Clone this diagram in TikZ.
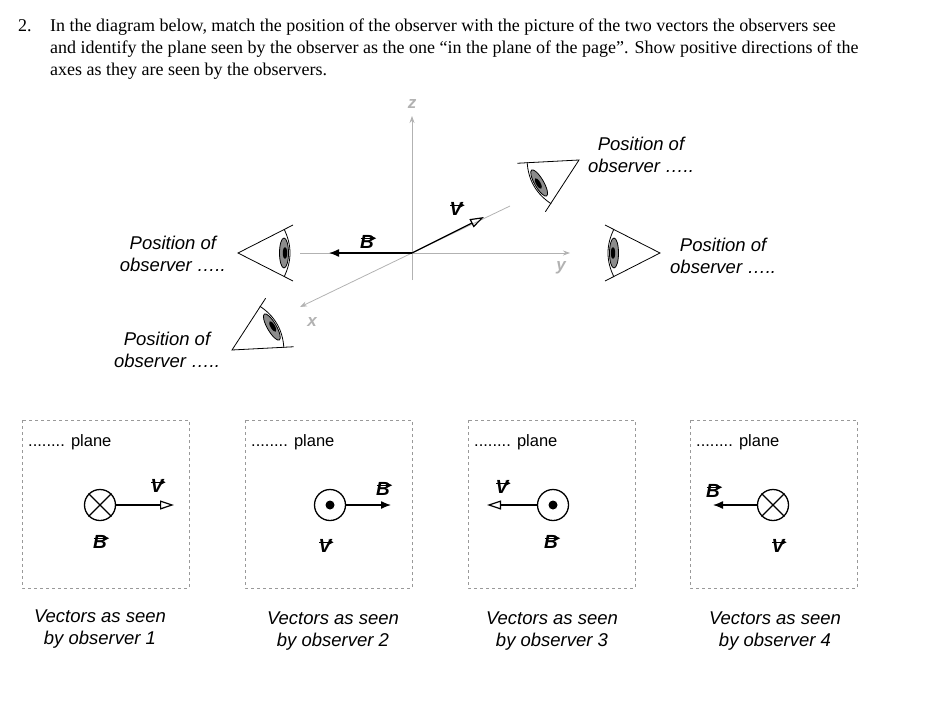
\documentclass[tikz,border=0pt]{standalone}
\usepackage{fontspec}
\setmainfont{Liberation Sans}
\newfontfamily\serif{Liberation Serif}
\usetikzlibrary{arrows.meta}
\newcommand\vecnode[3]{%
  \node[vl] (#1) at (#2) {#3};
  \draw[line width=1pt,-{Stealth[length=5pt,width=5pt]}] ([xshift=1pt,yshift=-3pt]#1.north west) -- ([xshift=2pt,yshift=-3pt]#1.north east);}
\begin{document}
\begin{tikzpicture}[x=1pt,y=-1pt,
  ax/.style={draw=black!30,line width=0.8pt},
  axa/.style={ax,-{Stealth[length=7pt,width=5pt]}},
  lbl/.style={font=\fontsize{18.5}{22}\selectfont\itshape,align=center,inner sep=0},
  axl/.style={font=\fontsize{17}{20}\selectfont\bfseries\itshape,text=black!30,inner sep=0},
  vl/.style={font=\fontsize{19}{20}\selectfont\bfseries\itshape,inner sep=0},
  bvec/.style={line width=1.3pt,-{Latex[length=10pt,width=8pt]}},
  vvecs/.style={line width=1.3pt,-{Triangle[open,length=14pt,width=9pt,line width=1.2pt]}},
  box/.style={draw=black!40,dashed,line width=0.6pt},
  sym/.style={circle,draw,line width=1.3pt,minimum size=31pt,inner sep=0},
  eye/.pic={
    \draw[line width=0.8pt] (55,-28) -- (0,0) -- (55,28);
    \draw[line width=0.8pt] (46,-24) .. controls (54,-8) and (54,8) .. (46,24);
    \draw[fill=black!45,line width=0.8pt] (46,0) ellipse (4.5 and 15);
    \fill (47,0) ellipse (2.2 and 6);
  }]
\useasboundingbox (0,0) rectangle (925,714);
\node[anchor=north west,inner sep=0,font=\serif\fontsize{18}{22}\selectfont] (num) at (18,19) {2.};
\node[anchor=north west,inner sep=0,font=\serif\fontsize{18}{22}\selectfont,align=left] (q) at (50,19)
 {In the diagram below, match the position of the observer with the picture of the two vectors the observers see\\
 and identify the plane seen by the observer as the one “in the plane of the page”. Show positive directions of the\\
 axes as they are seen by the observers.};
% axes
\coordinate (O) at (412,253);
\coordinate (zb) at (412,280); \coordinate (zt) at (412,116);
\coordinate (yl) at (300,253); \coordinate (yr) at (570,253);
\coordinate (xb) at (510,206); \coordinate (xt) at (300,307);
\draw[axa] (zb) -- (zt);
\draw[axa] (yl) -- (yr);
\draw[ax] (xb) -- (O);
\draw[axa] (O) -- (xt);
\node[axl] (zl) at (412,104) {z};
\node[axl] (ylab) at (561,268) {y};
\node[axl] (xlab) at (312,322) {x};
\coordinate (Bt) at (329,253); \coordinate (Vt) at (484,217);
\draw[bvec] (O) -- (Bt);
\draw[vvecs] (O) -- (Vt);
\vecnode{Bl}{367,242}{B}
\vecnode{Vl}{456,209}{V}
% eyes
\pic at (238,253) {eye};
\pic[rotate=180] at (660,253) {eye};
\pic[rotate=210] at (579,160) {eye};
\pic[rotate=30] at (232,350) {eye};
\node[lbl,anchor=east] (p1) at (226,254) {Position of\\observer …..};
\node[lbl,anchor=west] (p2) at (670,256) {Position of\\observer …..};
\node[lbl] (p3) at (641,155) {Position of\\observer …..};
\node[lbl] (p4) at (167,350) {Position of\\observer …..};
% boxes
\foreach \i/\x in {1/22,2/245,3/468,4/690}{
  \draw[box] (\x,420) rectangle ++(167,168);
  \node[anchor=west,inner sep=0,font=\fontsize{16.5}{18}\selectfont] (pl\i) at (\x+6,442) {........ plane};
}
% box 1
\node[sym] (c1) at (100,505) {}; \draw[line width=1.3pt] (c1.north east)--(c1.south west) (c1.north west)--(c1.south east);
\coordinate (v1) at (174,505); \draw[vvecs] (c1) -- (v1);
\vecnode{V1}{157,486}{V} \vecnode{B1}{100,542}{B}
% box 2
\node[sym] (c2) at (330,505) {}; \fill (c2) circle (4.5);
\coordinate (b2) at (391,505); \draw[bvec] (c2) -- (b2);
\vecnode{B2}{383,489}{B} \vecnode{V2}{325,546}{V}
% box 3
\node[sym] (c3) at (553,505) {}; \fill (c3) circle (4.5);
\coordinate (v3) at (487,505); \draw[vvecs] (c3) -- (v3);
\vecnode{V3}{502,487}{V} \vecnode{B3}{551,542}{B}
% box 4
\node[sym] (c4) at (773,505) {}; \draw[line width=1.3pt] (c4.north east)--(c4.south west) (c4.north west)--(c4.south east);
\coordinate (b4) at (713,505); \draw[bvec] (c4) -- (b4);
\vecnode{B4}{713,491}{B} \vecnode{V4}{778,546}{V}
% captions
\node[lbl] (cap1) at (100,629) {Vectors as seen\\by observer 1};
\node[lbl] (cap2) at (333,631) {Vectors as seen\\by observer 2};
\node[lbl] (cap3) at (552,631) {Vectors as seen\\by observer 3};
\node[lbl] (cap4) at (775,631) {Vectors as seen\\by observer 4};
\end{tikzpicture}
\end{document}
